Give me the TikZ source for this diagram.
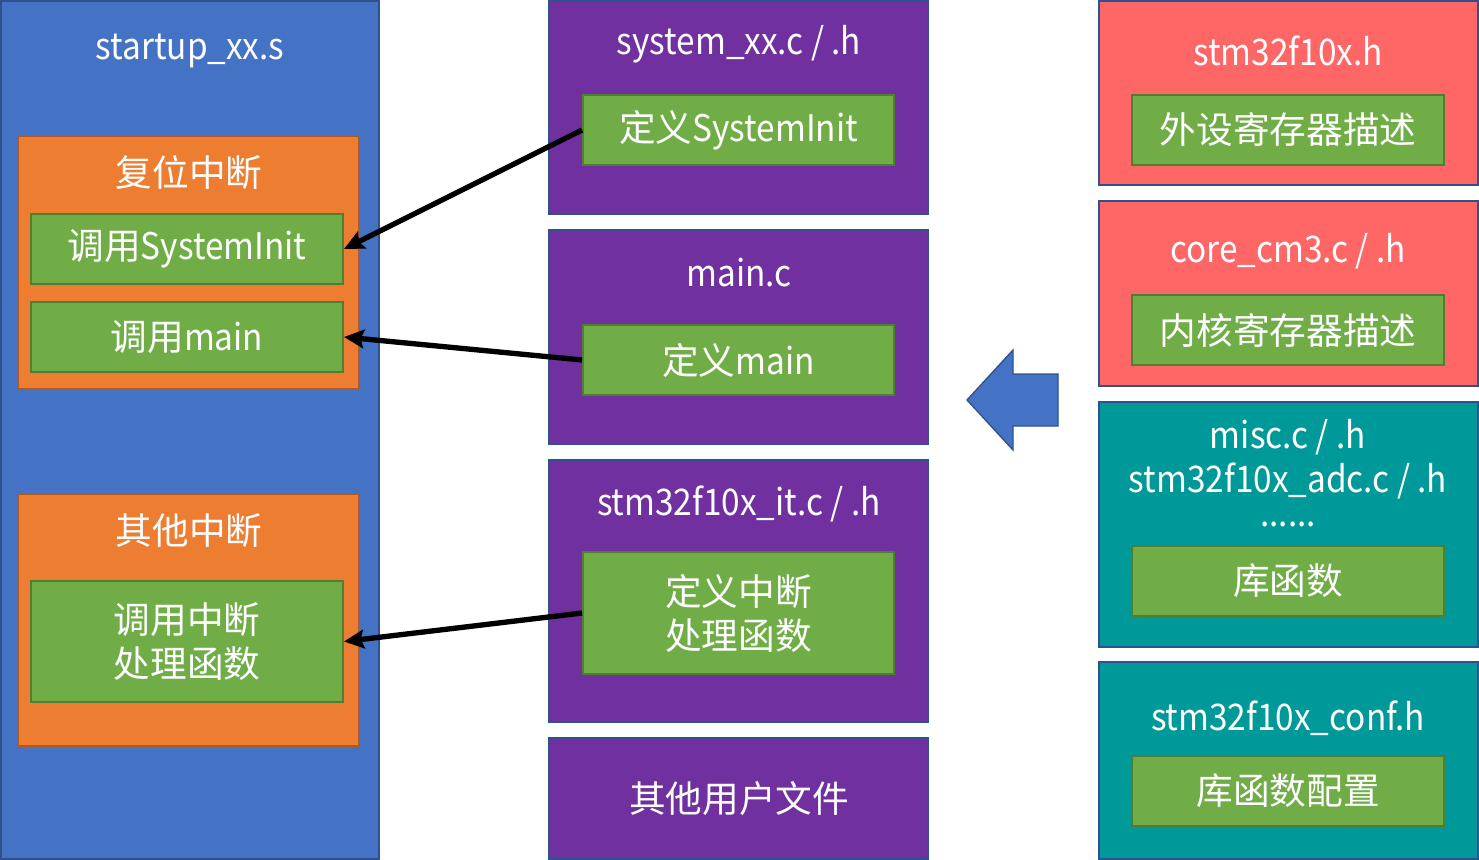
\documentclass[tikz,border=0pt]{standalone}
\usepackage{fontspec}
\setmainfont{Noto Sans CJK SC}
\newfontfamily\lat{Noto Sans CJK SC}[FakeStretch=0.91]
\usetikzlibrary{arrows.meta}
\definecolor{cblue}{HTML}{4472C4}
\definecolor{cblueb}{HTML}{2F528F}
\definecolor{corange}{HTML}{ED7D31}
\definecolor{corangeb}{HTML}{AE5A21}
\definecolor{cgreen}{HTML}{70AD47}
\definecolor{cgreenb}{HTML}{507E32}
\definecolor{cpurple}{HTML}{7030A0}
\definecolor{cred}{HTML}{FF6666}
\definecolor{cteal}{HTML}{009999}
\begin{document}
\begin{tikzpicture}[x=0.75pt,y=-0.75pt,
  every node/.style={font=\fontsize{27.5pt}{33pt}\selectfont, text=white, inner sep=0pt, align=center},
  outer/.style={draw=cblueb, line width=1.5pt},
  orangebox/.style={draw=corangeb, fill=corange, line width=1.5pt},
  gbox/.style={draw=cgreenb, fill=cgreen, line width=1.5pt, minimum width=234pt, minimum height=52.5pt},
  conn/.style={draw=black, line width=4pt, -{Stealth[length=15pt,width=14pt,inset=2.5pt]}}
]
\useasboundingbox (0,0) rectangle (1479,860);
% left column
\draw[outer, fill=cblue] (1,1) rectangle (379,859);
\node (tstart) at (190,51) {\lat startup\_xx.s};
\draw[orangebox] (18,136) rectangle (359,389);
\node (treset) at (189,173) {复位中断};
\node[gbox] (csys) at (187,249) {调用{\lat SystemInit}};
\node[gbox] (cmain) at (187,337) {调用{\lat main}};
\draw[orangebox] (18,494) rectangle (359,746);
\node (tother) at (189,531) {其他中断};
\node[gbox, minimum height=90.75pt] (cirq) at (187,641.5) {调用中断\\处理函数};
% middle column
\draw[outer, fill=cpurple] (549,1) rectangle (928,214);
\node (tsys) at (739,44) {\lat system\_xx.c / .h};
\node[gbox, minimum width=233.25pt] (dsys) at (738.5,130) {定义{\lat SystemInit}};
\draw[outer, fill=cpurple] (549,230) rectangle (928,444);
\node (tmain) at (739,273) {\lat main.c};
\node[gbox, minimum width=233.25pt] (dmain) at (738.5,360) {定义{\lat main}};
\draw[outer, fill=cpurple] (549,460) rectangle (928,722);
\node (tit) at (739,504) {\lat stm32f10x\_it.c / .h};
\node[gbox, minimum width=233.25pt, minimum height=91.5pt] (dirq) at (738.5,613) {定义中断\\处理函数};
\draw[outer, fill=cpurple] (549,738) rectangle (928,859);
\node (tuser) at (739,799) {其他用户文件};
% right column
\draw[outer, fill=cred] (1099,1) rectangle (1478,185);
\node (tstm) at (1288,51) {\lat stm32f10x.h};
\node[gbox] (gperiph) at (1288,130) {外设寄存器描述};
\draw[outer, fill=cred] (1099,201) rectangle (1478,386);
\node (tcore) at (1288,251) {\lat core\_cm3.c / .h};
\node[gbox] (gcore) at (1288,330) {内核寄存器描述};
\draw[outer, fill=cteal] (1099,402) rectangle (1478,647);
\node[font=\fontsize{27.5pt}{33pt}\lat] (tlib) at (1288,459) {misc.c / .h\\stm32f10x\_adc.c / .h};
\node[font=\fontsize{27.5pt}{33pt}\lat, align=none] (tdots) at (1288,524) {......};
\node[gbox] (glib) at (1288,581) {库函数};
\draw[outer, fill=cteal] (1099,662) rectangle (1478,859);
\node (tconf) at (1288,718) {\lat stm32f10x\_conf.h};
\node[gbox] (gconf) at (1288,791) {库函数配置};
% block arrow
\draw[fill=cblue, draw=cblueb, line width=1pt] (967,400) -- (1013,350) -- (1013,374) -- (1058,374) -- (1058,426) -- (1013,426) -- (1013,450) -- cycle;
% connectors
\draw[conn] (dsys.west) -- (csys.east);
\draw[conn] (dmain.west) -- (cmain.east);
\draw[conn] (dirq.west) -- (cirq.east);
\end{tikzpicture}
\end{document}
